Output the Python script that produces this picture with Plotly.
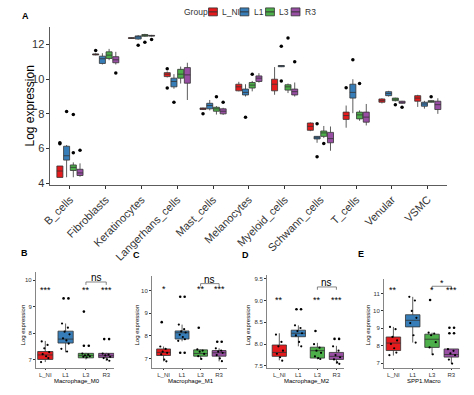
import plotly.graph_objects as go

W, H = 474, 395
FONT = "Liberation Sans, Arial, sans-serif"
GROUPS = ["L_NI", "L1", "L3", "R3"]
COLORS = {"L_NI": "#E41A1C", "L1": "#377EB8", "L3": "#4DAF4A", "R3": "#984EA3"}
LEGEND_TITLE = "Group"

# ---------------- Panel A data ----------------
A_CATS = ["B_cells", "Fibroblasts", "Keratinocytes", "Langerhans_cells", "Mast_cells",
          "Melanocytes", "Myeloid_cells", "Schwann_cells", "T_cells", "Venular", "VSMC"]
A_Q1 = {
    "L_NI": [4.33, 11.40, 12.35, 10.15, 8.25, 9.33, 9.33, 7.05, 7.68, 8.67, 8.73],
    "L1":   [5.33, 10.91, 12.32, 9.56, 8.29, 9.09, 10.72, 6.55, 8.91, 9.05, 8.44],
    "L3":   [4.73, 11.20, 12.48, 10.06, 8.15, 9.49, 9.37, 6.70, 7.71, 8.76, 8.67],
    "R3":   [4.44, 10.95, 12.49, 9.77, 8.00, 9.87, 9.09, 6.33, 7.52, 8.61, 8.25],
}
A_MED = {
    "L_NI": [4.70, 11.43, 12.38, 10.29, 8.30, 9.56, 9.71, 7.28, 7.90, 8.76, 8.91],
    "L1":   [5.58, 11.18, 12.44, 9.87, 8.48, 9.24, 10.76, 6.62, 9.24, 9.18, 8.57],
    "L3":   [4.91, 11.39, 12.53, 10.29, 8.29, 9.66, 9.56, 6.90, 7.94, 8.84, 8.72],
    "R3":   [4.59, 11.12, 12.51, 10.25, 8.15, 10.06, 9.28, 6.57, 7.81, 8.67, 8.53],
}
A_Q3 = {
    "L_NI": [4.99, 11.46, 12.40, 10.38, 8.34, 9.71, 10.00, 7.47, 8.10, 8.86, 9.05],
    "L1":   [6.13, 11.33, 12.50, 10.06, 8.61, 9.43, 10.79, 6.70, 9.71, 9.28, 8.67],
    "L3":   [5.05, 11.58, 12.58, 10.57, 8.38, 9.81, 9.68, 7.01, 8.10, 8.91, 8.76],
    "R3":   [4.80, 11.30, 12.53, 10.67, 8.29, 10.19, 9.43, 6.93, 8.10, 8.73, 8.73],
}
A_LO = {
    "L_NI": [4.33, 11.38, 12.33, 10.10, 8.22, 9.30, 9.10, 7.00, 7.20, 8.60, 8.40],
    "L1":   [4.34, 10.85, 12.28, 9.45, 8.20, 9.00, 10.70, 6.33, 8.04, 9.00, 8.30],
    "L3":   [4.34, 11.10, 12.45, 9.75, 7.96, 9.30, 9.20, 6.60, 7.60, 8.72, 8.65],
    "R3":   [4.37, 10.85, 12.47, 8.80, 7.94, 9.80, 9.00, 5.87, 7.33, 8.58, 8.00],
}
A_HI = {
    "L_NI": [4.99, 11.50, 12.42, 10.45, 8.36, 9.85, 10.70, 7.50, 8.48, 8.90, 9.10],
    "L1":   [6.20, 11.50, 12.55, 10.29, 8.80, 9.71, 10.80, 6.72, 10.00, 9.33, 8.75],
    "L3":   [5.20, 11.75, 12.62, 10.73, 8.45, 9.90, 9.75, 7.30, 8.20, 8.93, 8.78],
    "R3":   [5.14, 11.58, 12.56, 10.95, 8.35, 10.35, 9.81, 7.27, 8.57, 8.75, 8.90],
}
# outliers: (category index, value)
A_OUT = {
    "L_NI": [(0, 6.33), (0, 6.27), (1, 11.66), (3, 10.61), (3, 9.49), (4, 8.00), (8, 9.50)],
    "L1":   [(0, 8.13), (2, 11.96), (3, 8.67), (5, 7.81), (6, 11.90), (6, 9.90),
             (7, 7.43), (7, 5.53), (8, 11.12)],
    "L3":   [(0, 7.96), (0, 5.75), (2, 12.13), (4, 8.99), (5, 10.29), (6, 12.38),
             (7, 6.29), (8, 9.75), (9, 8.53), (10, 8.99)],
    "R3":   [(0, 5.90), (1, 10.36), (2, 12.29), (4, 8.67), (6, 11.01), (9, 8.38)],
}

# ---------------- Bottom panels data ----------------
SUB_CATS = ["L_NI", "L1", "L3", "R3"]
Y_TITLE = "Log expression"

B_TITLE = "Macrophage_M0"
B_Q1 = [7.00, 7.62, 7.06, 7.07]
B_MED = [7.17, 7.77, 7.15, 7.14]
B_Q3 = [7.30, 8.07, 7.23, 7.23]
B_LO = [6.90, 7.27, 7.00, 6.95]
B_HI = [7.70, 8.36, 7.25, 7.25]
B_PTS = [[7.68, 7.55, 7.42, 7.28, 7.20, 7.12, 7.05, 6.90],
         [8.36, 8.20, 8.05, 7.95, 7.80, 7.72, 7.60, 7.40, 7.30],
         [7.22, 7.18, 7.15, 7.12, 7.10, 7.08],
         [7.22, 7.18, 7.15, 7.10, 7.05, 7.00, 6.95]]
B_OUT = [[], [9.31, 9.31], [8.81, 7.52, 7.52], [7.77, 7.77]]
B_SIG = ["***", "", "**", "***"]
B_SIG_Y, B_BR_Y, B_BR_TXT = 9.62, 9.93, "ns"
B_YTICKS = [7, 8, 9, 10]

C_TITLE = "Macrophage_M1"
C_Q1 = [7.13, 7.86, 7.10, 7.10]
C_MED = [7.27, 8.14, 7.22, 7.25]
C_Q3 = [7.42, 8.22, 7.38, 7.35]
C_LO = [6.87, 7.76, 6.95, 6.87]
C_HI = [7.53, 8.50, 7.40, 7.45]
C_PTS = [[7.53, 7.42, 7.30, 7.25, 7.18, 6.95, 6.87],
         [8.50, 8.30, 8.20, 8.15, 8.05, 7.95, 7.85, 7.78],
         [7.40, 7.35, 7.30, 7.20, 7.10, 6.98],
         [7.45, 7.35, 7.30, 7.25, 7.15, 7.00, 6.88]]
C_OUT = [[8.61], [9.74, 9.74, 7.25, 7.25], [8.36], [7.74, 7.74]]
C_SIG = ["*", "", "**", "***"]
C_SIG_Y, C_BR_Y, C_BR_TXT = 10.10, 10.32, "ns"
C_YTICKS = [7, 8, 9, 10]

D_TITLE = "Macrophage_M2"
D_Q1 = [7.72, 8.17, 7.68, 7.65]
D_MED = [7.81, 8.25, 7.85, 7.72]
D_Q3 = [7.98, 8.32, 7.93, 7.81]
D_LO = [7.63, 7.95, 7.65, 7.55]
D_HI = [8.25, 8.43, 8.03, 7.96]
D_PTS = [[8.22, 8.05, 7.95, 7.85, 7.78, 7.70, 7.62],
         [8.43, 8.37, 8.30, 8.25, 8.20, 8.05, 7.95],
         [8.00, 7.92, 7.85, 7.80, 7.72, 7.68, 7.66],
         [7.95, 7.85, 7.75, 7.70, 7.65, 7.58, 7.55]]
D_OUT = [[], [8.80, 8.80], [8.30], [8.12, 8.12]]
D_SIG = ["**", "", "**", "***"]
D_SIG_Y, D_BR_Y, D_BR_TXT = 9.00, 9.31, "ns"
D_YTICKS = [7.5, 8.0, 8.5, 9.0, 9.5]

E_TITLE = "SPP1.Macro"
E_Q1 = [7.72, 9.08, 7.90, 7.34]
E_MED = [8.15, 9.46, 8.37, 7.49]
E_Q3 = [8.50, 9.78, 8.66, 7.81]
E_LO = [7.43, 8.18, 7.47, 6.97]
E_HI = [9.08, 10.81, 8.75, 7.81]
E_PTS = [[9.08, 8.95, 8.50, 8.30, 8.10, 7.85, 7.60, 7.45],
         [10.81, 10.60, 10.00, 9.60, 9.30, 8.60, 8.18],
         [8.75, 8.70, 8.60, 8.20, 7.90, 7.50],
         [7.80, 7.70, 7.55, 7.45, 7.20, 6.97]]
E_OUT = [[], [], [10.63], [8.71, 8.71, 9.03, 9.03]]
E_SIG = ["**", "", "*", "***"]
E_SIG_Y, E_BR_Y, E_BR_TXT = 11.19, 11.42, "*"
E_YTICKS = [7, 8, 9, 10, 11]

# ---------------- layout geometry (pixels) ----------------
def fx(p):
    return p / W

def fy(p):
    return 1 - p / H

JITTER = [-0.22, 0.14, -0.06, 0.24, -0.16, 0.05, 0.19, -0.26, 0.09]

fig = go.Figure()
LINE = "#333333"
TXT = "#333333"


def paper_text(text, x, y, size, color="black", angle=0, xanchor="center"):
    return dict(text=text, x=fx(x), y=fy(y), xref="paper", yref="paper",
                xanchor=xanchor, yanchor="middle", showarrow=False, textangle=angle,
                font=dict(size=size, color=color, family=FONT))


# Panel A
A_W = 0.75 / 4
for j, g in enumerate(GROUPS):
    off = (j - 1.5) * A_W
    xs = [i + off for i in range(len(A_CATS))]
    fig.add_trace(go.Box(
        x=xs, q1=A_Q1[g], median=A_MED[g], q3=A_Q3[g],
        lowerfence=A_LO[g], upperfence=A_HI[g],
        width=A_W * 0.9, whiskerwidth=0, boxpoints=False,
        fillcolor=COLORS[g], line=dict(color=LINE, width=0.8),
        name=g, showlegend=False,
        xaxis="x", yaxis="y", hoverinfo="skip"))
    fig.add_trace(go.Scatter(
        x=[c + off for c, v in A_OUT[g]], y=[v for c, v in A_OUT[g]],
        mode="markers", marker=dict(color="black", size=3.5),
        showlegend=False, xaxis="x", yaxis="y", hoverinfo="skip"))

panels = [
    ("B", B_TITLE, B_Q1, B_MED, B_Q3, B_LO, B_HI, B_PTS, B_OUT, B_SIG, B_SIG_Y, B_BR_Y, B_BR_TXT, B_YTICKS,
     (28, 108, 275, 372), [-0.48, 3.39], [6.667, 10.30], (17, 256), 15),
    ("C", C_TITLE, C_Q1, C_MED, C_Q3, C_LO, C_HI, C_PTS, C_OUT, C_SIG, C_SIG_Y, C_BR_Y, C_BR_TXT, C_YTICKS,
     (146, 223, 279, 372), [-0.65, 3.44], [6.565, 10.65], (131, 258), 131),
    ("D", D_TITLE, D_Q1, D_MED, D_Q3, D_LO, D_HI, D_PTS, D_OUT, D_SIG, D_SIG_Y, D_BR_Y, D_BR_TXT, D_YTICKS,
     (263, 342, 278, 372), [-0.67, 3.41], [7.448, 9.58], (242, 258), 244),
    ("E", E_TITLE, E_Q1, E_MED, E_Q3, E_LO, E_HI, E_PTS, E_OUT, E_SIG, E_SIG_Y, E_BR_Y, E_BR_TXT, E_YTICKS,
     (382, 460, 282, 372), [-0.51, 3.46], [6.70, 11.83], (359, 257), 366),
]

annotations = [paper_text("<b>A</b>", 18, 16, 9)]
shapes = []
layout_axes = {}

# manual compact legend (title + swatches)
annotations.append(paper_text(LEGEND_TITLE, 177, 12, 8.5, TXT, xanchor="left"))
LEG_SW = [204, 236, 262, 288]
for g, sx in zip(GROUPS, LEG_SW):
    shapes.append(dict(type="rect", xref="paper", yref="paper",
                       x0=fx(sx), x1=fx(sx + 9), y0=fy(16), y1=fy(8),
                       fillcolor=COLORS[g], line=dict(color=LINE, width=0.8)))
    shapes.append(dict(type="line", xref="paper", yref="paper",
                       x0=fx(sx), x1=fx(sx + 9), y0=fy(12), y1=fy(12),
                       line=dict(color=LINE, width=1)))
    annotations.append(paper_text(g, sx + 12, 12, 8.5, TXT, xanchor="left"))

# panel A y title
annotations.append(paper_text(Y_TITLE, 22, 107, 12, angle=-90))

layout_axes["xaxis"] = dict(
    domain=[fx(43), fx(447)], range=[-0.55, 10.55], anchor="y",
    tickmode="array", tickvals=list(range(len(A_CATS))), ticktext=A_CATS, tickangle=-45,
    showline=True, linecolor="#333", linewidth=0.8, ticks="outside", ticklen=3, tickcolor="#333",
    showgrid=False, zeroline=False, tickfont=dict(size=11, color=TXT, family=FONT))
layout_axes["yaxis"] = dict(
    domain=[fy(187), fy(27)], range=[3.886, 13.03], anchor="x",
    tickvals=[4, 6, 8, 10, 12], showline=True, linecolor="#333", linewidth=0.8,
    ticks="outside", ticklen=3, tickcolor="#333", showgrid=False, zeroline=False,
    tickfont=dict(size=11, color=TXT, family=FONT))

for k, (lab, title, q1, med, q3, lo, hi, pts, outs, sig, sig_y, br_y, br_txt, yt,
        (x0, x1, y0, y1), xr, yr, (lx, ly), ytx) in enumerate(panels):
    n = k + 2
    xa, ya = f"x{n}", f"y{n}"
    for i, g in enumerate(SUB_CATS):
        fig.add_trace(go.Box(
            x=[i], q1=[q1[i]], median=[med[i]], q3=[q3[i]],
            lowerfence=[lo[i]], upperfence=[hi[i]],
            width=0.75, whiskerwidth=0, boxpoints=False,
            fillcolor=COLORS[g], line=dict(color=LINE, width=0.8),
            name=g, showlegend=False,
            xaxis=xa, yaxis=ya, hoverinfo="skip"))
        fig.add_trace(go.Scatter(
            x=[i + JITTER[m % len(JITTER)] * 0.8 for m in range(len(pts[i]))], y=pts[i],
            mode="markers", marker=dict(color="black", size=2.2),
            showlegend=False, xaxis=xa, yaxis=ya, hoverinfo="skip"))
        ox = []
        seen = {}
        for v in outs[i]:
            c = seen.get(v, 0)
            seen[v] = c + 1
            ox.append(i + (-0.1 if c == 0 else 0.14))
        fig.add_trace(go.Scatter(
            x=ox, y=outs[i], mode="markers", marker=dict(color="black", size=2.6),
            showlegend=False, xaxis=xa, yaxis=ya, hoverinfo="skip"))
        if sig[i]:
            annotations.append(dict(text=sig[i], x=i, y=sig_y, xref=xa, yref=ya, showarrow=False,
                                    xanchor="center", yanchor="middle",
                                    font=dict(size=9, color="black", family=FONT)))
    # bracket between L3 and R3
    tip = (yr[1] - yr[0]) * 0.03
    shapes.append(dict(type="path", xref=xa, yref=ya,
                       path=f"M 2,{br_y - tip} L 2,{br_y} L 3,{br_y} L 3,{br_y - tip}",
                       line=dict(color="#666", width=0.8)))
    annotations.append(dict(text=br_txt, x=2.5, y=br_y, xref=xa, yref=ya, showarrow=False,
                            xanchor="center", yanchor="bottom", yshift=-3 if br_txt == "ns" else -4,
                            font=dict(size=10 if br_txt == "ns" else 9, color="black", family=FONT)))
    annotations.append(paper_text(f"<b>{lab}</b>", lx, ly, 9))
    # axis titles (compact, placed like the reference)
    annotations.append(paper_text(title, (x0 + x1) / 2 + 2, 385, 6))
    annotations.append(paper_text(Y_TITLE, ytx, 328, 6, angle=-90))
    layout_axes[f"xaxis{n}"] = dict(
        domain=[fx(x0), fx(x1)], range=xr, anchor=ya,
        tickmode="array", tickvals=[0, 1, 2, 3], ticktext=SUB_CATS,
        showline=True, linecolor="#333", linewidth=0.6, ticks="outside", ticklen=1, tickcolor="#333",
        showgrid=False, zeroline=False, tickfont=dict(size=6, color=TXT, family=FONT))
    layout_axes[f"yaxis{n}"] = dict(
        domain=[fy(y1), fy(y0)], range=yr, anchor=xa,
        tickvals=yt, tickformat=".1f" if lab == "D" else "d",
        showline=True, linecolor="#333", linewidth=0.6, ticks="outside", ticklen=2, tickcolor="#333",
        showgrid=False, zeroline=False, tickfont=dict(size=6, color=TXT, family=FONT))

fig.update_layout(
    width=W, height=H, margin=dict(l=0, r=0, t=0, b=0),
    paper_bgcolor="white", plot_bgcolor="white",
    font=dict(family=FONT, color=TXT),
    boxmode="overlay",
    showlegend=False,
    annotations=annotations, shapes=shapes,
    **layout_axes)

fig.write_html("out.html",
               config={"displayModeBar": False, "staticPlot": True},
               post_script="document.body.style.margin='0';document.body.style.padding='0';")
